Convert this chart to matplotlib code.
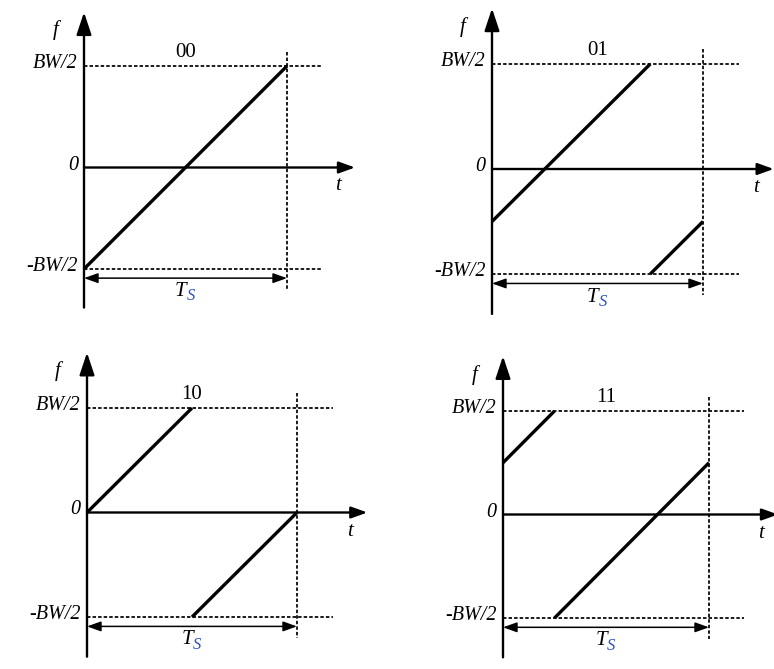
import matplotlib
matplotlib.use("Agg")
import matplotlib.pyplot as plt

# ---- data ----
symbols = ["00", "01", "10", "11"]
start_offsets = [0.0, 0.25, 0.5, 0.75]      # chirp start shift (fraction of BW)
f_ticks = [0.5, 0.0, -0.5]
f_tick_labels = ["BW/2", "0", "-BW/2"]

# ---- layout: pixel origin (t=0,f=0) and pixel scale per unit for each panel ----
W, H = 774, 669
panels = [  # x0, y0, sx, sy
    (84, 167.5, 203, 203),
    (492, 169, 211, 210),
    (87, 512.5, 210, 209),
    (503, 514.5, 206, 207),
]

serif = "Liberation Serif"
BLUE = "#2a4fc8"

fig = plt.figure(figsize=(W / 100, H / 100), dpi=100)
fig.patch.set_facecolor("white")

for sym, off, (x0, y0, sx, sy) in zip(symbols, start_offsets, panels):
    ax = fig.add_axes([0, 0, 1, 1])
    ax.set_xlim(-x0 / sx, (W - x0) / sx)
    ax.set_ylim((y0 - H) / sy, y0 / sy)
    ax.axis("off")
    ax.patch.set_alpha(0)

    # axes with arrows
    ax.annotate("", xy=(0, 0.765), xytext=(0, -0.69), annotation_clip=False,
                arrowprops=dict(arrowstyle="-|>,head_length=1.05,head_width=0.35",
                                mutation_scale=13, lw=1.7, color="black",
                                shrinkA=0, shrinkB=0))
    ax.annotate("", xy=(1.335, 0), xytext=(0, 0), annotation_clip=False,
                arrowprops=dict(arrowstyle="-|>,head_length=0.75,head_width=0.27",
                                mutation_scale=13, lw=1.7, color="black",
                                shrinkA=0, shrinkB=0))

    # dashed guides
    for fv in (0.5, -0.5):
        ax.plot([0, 1.17], [fv, fv], color="black", lw=1.25,
                dashes=(2.0, 1.2))
    ax.plot([1, 1], [0.57, -0.60], color="black", lw=1.25, dashes=(2.0, 1.2))

    # Ts double arrow
    ax.annotate("", xy=(1, -0.545), xytext=(0, -0.545),
                arrowprops=dict(arrowstyle="<|-|>,head_length=0.7,head_width=0.25",
                                mutation_scale=12, lw=1.1, color="black",
                                shrinkA=0, shrinkB=0))

    # chirp segments
    t_wrap = 1 - off
    ax.plot([0, t_wrap], [-0.5 + off, 0.5], color="black", lw=2.4,
            solid_capstyle="butt")
    if off > 0:
        ax.plot([t_wrap, 1], [-0.5, -0.5 + off], color="black", lw=2.4,
                solid_capstyle="butt")

    # labels
    for fv, lab in zip(f_ticks, f_tick_labels):
        ax.text(-0.03, fv + 0.012, lab, ha="right", va="center",
                family=serif, style="italic", fontsize=14.5)
    ax.text(-0.14, 0.675, "f", ha="center", va="center",
            family=serif, style="italic", fontsize=15)
    ax.text(1.25, -0.09, "t", ha="center", va="center",
            family=serif, style="italic", fontsize=15)
    ax.text(0.5, 0.565, sym, ha="center", va="center",
            family=serif, fontsize=15)
    ax.text(0.505, -0.61, "T", ha="right", va="center",
            family=serif, style="italic", fontsize=15)
    ax.text(0.505, -0.635, "S", ha="left", va="center",
            family=serif, style="italic", fontsize=12, color=BLUE)

fig.savefig("out.png", dpi=100, facecolor="white")
